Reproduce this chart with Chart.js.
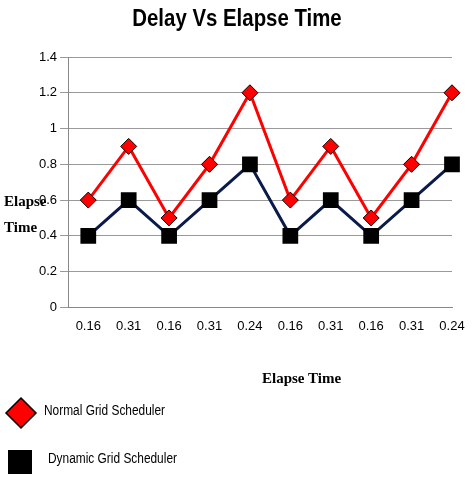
<!DOCTYPE html><html><head><meta charset="utf-8">
<script src="https://cdn.jsdelivr.net/npm/chart.js@4"></script>
<style>body{margin:0;background:#fff;width:474px;height:485px;overflow:hidden;position:relative;font-family:"Liberation Sans",Arial}
#c{position:absolute;left:0;top:0}
.t{position:absolute;white-space:nowrap}
</style></head><body>
<canvas id="c" width="474" height="485"></canvas>
<div class="t" style="left:0;width:474px;text-align:center;top:4px;font-size:24px;font-weight:bold;transform:scaleX(0.85)">Delay Vs Elapse Time</div>
<div class="t" style="left:4px;top:188px;font-family:'Liberation Serif';font-weight:bold;font-size:15px;line-height:26px">Elapse<br>Time</div>
<div class="t" style="left:262px;top:370px;font-family:'Liberation Serif';font-weight:bold;font-size:15px">Elapse Time</div>
<div class="t" style="left:44px;top:402px;font-size:14px;transform:scaleX(0.85);transform-origin:left">Normal Grid Scheduler</div>
<div class="t" style="left:48px;top:450px;font-size:14px;transform:scaleX(0.85);transform-origin:left">Dynamic Grid Scheduler</div>
<svg class="t" style="left:4px;top:396px" width="34" height="34"><polygon points="17,2 32,17 17,32 2,17" fill="#f00" stroke="#000" stroke-width="1.5"/></svg>
<div class="t" style="left:8px;top:450px;width:24px;height:24px;background:#000"></div>
<script>
const labels=["0.16","0.31","0.16","0.31","0.24","0.16","0.31","0.16","0.31","0.24"];
const normal=[0.6,0.9,0.5,0.8,1.2,0.6,0.9,0.5,0.8,1.2];
const dynamic=[0.4,0.6,0.4,0.6,0.8,0.4,0.6,0.4,0.6,0.8];
const pts=a=>a.map((y,i)=>({x:i,y}));
new Chart(document.getElementById('c'),{type:'line',
data:{datasets:[
{data:pts(normal),borderColor:'#f00',borderWidth:3,pointStyle:'rectRot',pointRadius:8,pointBackgroundColor:'#f00',pointBorderColor:'#000',pointBorderWidth:1,tension:0,clip:false},
{data:pts(dynamic),borderColor:'#0a1a4a',borderWidth:3,pointStyle:'rect',pointRadius:9,pointBackgroundColor:'#000',pointBorderColor:'#000',tension:0,clip:false}]},
options:{responsive:false,animation:false,layout:{padding:{left:36,top:57,right:22,bottom:148}},
plugins:{legend:{display:false},tooltip:{enabled:false}},
scales:{x:{type:'linear',min:-0.5,max:9,afterBuildTicks:s=>{s.ticks=labels.map((l,i)=>({value:i}));},
ticks:{callback:v=>labels[v]??'',color:'#000',font:{size:13},maxRotation:0,autoSkip:false},grid:{display:false},border:{color:'#888'}},
y:{min:0,max:1.4,ticks:{stepSize:0.2,color:'#000',font:{size:13},callback:v=>+v.toFixed(1)},grid:{color:'#999'},border:{color:'#888'}}}}});
</script></body></html>
